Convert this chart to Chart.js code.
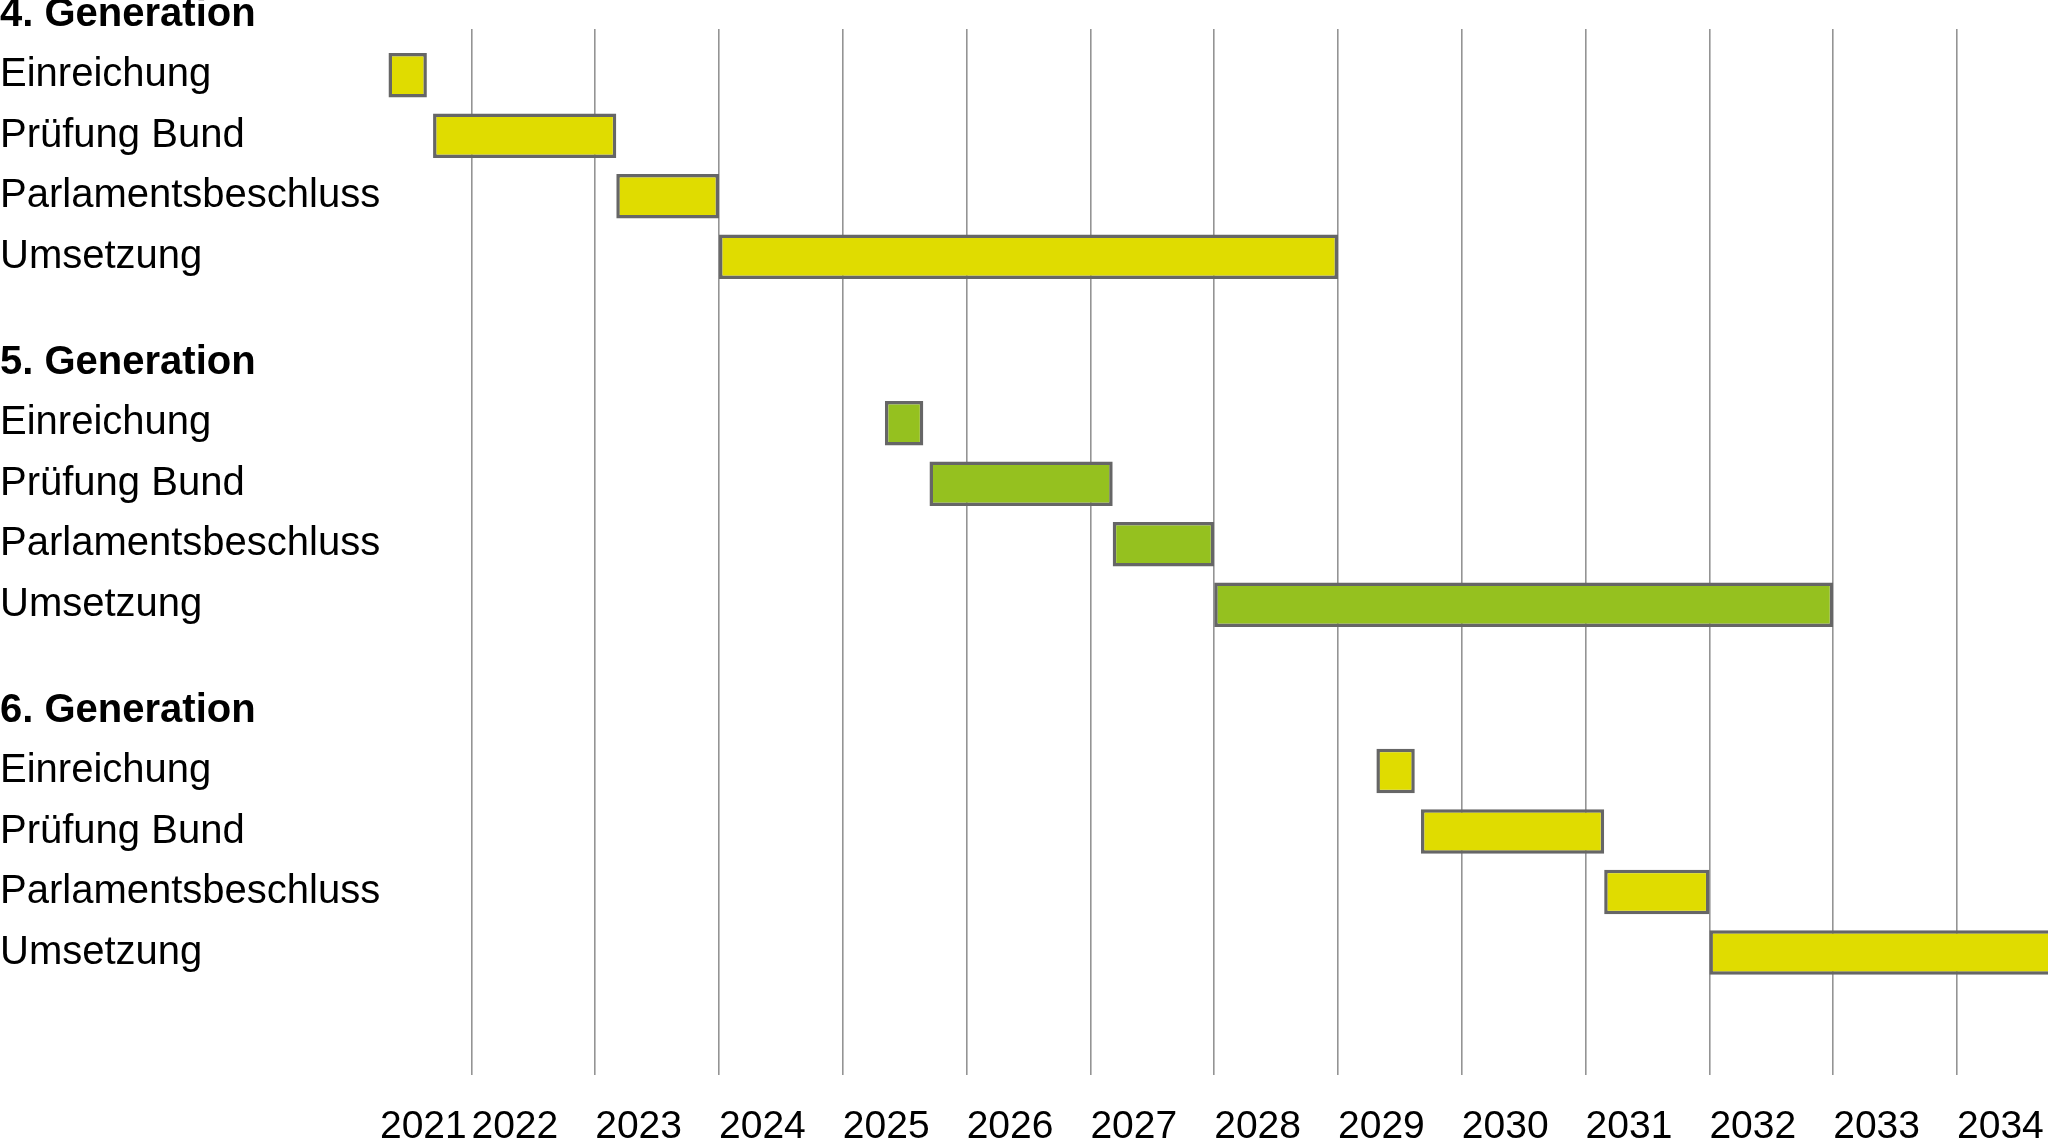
<!DOCTYPE html>
<html>
<head>
<meta charset="utf-8">
<script src="https://cdn.jsdelivr.net/npm/chart.js@4.4.1/dist/chart.umd.min.js"></script>
<style>
  html, body { margin: 0; padding: 0; background: #ffffff; overflow: hidden; }
  #wrap { width: 2048px; height: 1142px; position: relative; }
</style>
</head>
<body>
<div id="wrap"><canvas id="chart"></canvas></div>
<script>
// ---- data ----
const generations = ['4. Generation', '5. Generation', '6. Generation'];
const steps = ['Einreichung', 'Prüfung Bund', 'Parlamentsbeschluss', 'Umsetzung'];
const yearLabels = ['2021', '2022', '2023', '2024', '2025', '2026', '2027', '2028', '2029', '2030', '2031', '2032', '2033', '2034'];

const gen4Start = [2021.33, 2021.69, 2023.17, 2024.00];
const gen4End   = [2021.64, 2023.17, 2024.00, 2029.00];
const gen5Start = [2025.34, 2025.70, 2027.18, 2028.00];
const gen5End   = [2025.65, 2027.18, 2028.00, 2033.00];
const gen6Start = [2029.31, 2029.67, 2031.15, 2032.00];
const gen6End   = [2029.62, 2031.15, 2032.00, 2037.00];

const genColors = ['#E0DC00', '#95C11F', '#E0DC00'];

// ---- layout of rows: header row + step rows + a 3/4-row gap per generation ----
const groupStride = steps.length + 1.75;
const rowLabels = new Map();
const headerRows = new Set();
generations.forEach((g, gi) => {
  const base = gi * groupStride;
  rowLabels.set(base, g);
  headerRows.add(base);
  steps.forEach((s, si) => rowLabels.set(base + 1 + si, s));
});
const rowTicks = Array.from(rowLabels.keys());

const starts = [gen4Start, gen5Start, gen6Start];
const ends = [gen4End, gen5End, gen6End];

const datasets = generations.map((g, gi) => ({
  label: g,
  data: steps.map((s, si) => ({ x: [starts[gi][si], ends[gi][si]], y: gi * groupStride + 1 + si })),
  backgroundColor: genColors[gi],
  borderColor: '#666666',
  borderWidth: 3.5,
  borderSkipped: false,
  grouped: false,
  barPercentage: 0.7355,
  categoryPercentage: 1
}));

const xMin = 2021.326;
const xMax = 2034.735;
// first year label sits at the left edge of the plot (its year started before the visible range)
const xTickValues = yearLabels.map((y, i) => i === 0 ? xMin - 0.065 : Number(y));

const FONT = "'Liberation Sans', Arial, sans-serif";

new Chart(document.getElementById('chart'), {
  type: 'bar',
  data: { datasets },
  options: {
    indexAxis: 'y',
    responsive: true,
    maintainAspectRatio: false,
    animation: false,
    layout: { padding: { top: 29, left: 0, right: 0, bottom: 0 } },
    plugins: { legend: { display: false }, tooltip: { enabled: false } },
    scales: {
      x: {
        type: 'linear',
        position: 'bottom',
        offset: false,
        min: xMin,
        max: xMax,
        afterBuildTicks: (scale) => { scale.ticks = xTickValues.map(v => ({ value: v })); },
        grid: {
          color: (ctx) => ctx.index === 0 ? 'rgba(0,0,0,0)' : '#949494',
          lineWidth: 1.6,
          drawTicks: true,
          tickLength: 37,
          tickColor: 'rgba(0,0,0,0)'
        },
        border: { display: false },
        ticks: {
          autoSkip: false,
          maxRotation: 0,
          align: 'start',
          padding: 0,
          color: '#000000',
          font: { family: FONT, size: 39, lineHeight: 0.77 },
          callback: (value, index) => yearLabels[index]
        }
      },
      y: {
        type: 'linear',
        reverse: true,
        offset: false,
        min: 0.2347,
        max: 17.524,
        afterBuildTicks: (scale) => { scale.ticks = rowTicks.map(v => ({ value: v })); },
        afterFit: (scale) => { scale.width = 388; },
        grid: { display: false, drawTicks: false },
        border: { display: false },
        ticks: {
          autoSkip: false,
          crossAlign: 'far',
          padding: 0,
          color: '#000000',
          font: (ctx) => ({
            family: FONT,
            size: 40,
            weight: (ctx.tick && headerRows.has(ctx.tick.value)) ? 'bold' : 'normal'
          }),
          callback: (value) => rowLabels.has(value) ? rowLabels.get(value) : ''
        }
      }
    }
  }
});
</script>
</body>
</html>
